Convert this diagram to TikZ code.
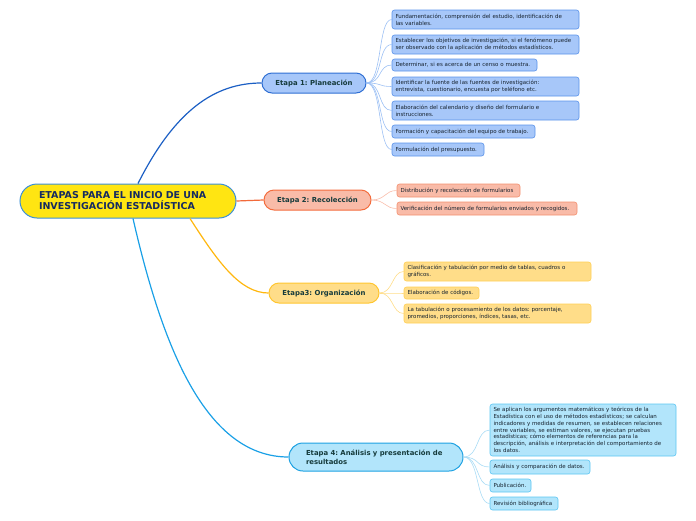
\documentclass[tikz,border=0pt]{standalone}
\usepackage{fontspec}
\setmainfont{DejaVu Sans}
\frenchspacing
\definecolor{txt}{HTML}{16222E}
\definecolor{stxt}{HTML}{163B3C}
\definecolor{ctxt}{HTML}{152A61}
\definecolor{cfill}{HTML}{FFE512}
\definecolor{cbord}{HTML}{3B8FD8}
\definecolor{bfill}{HTML}{A7C7F9}
\definecolor{bbord}{HTML}{2F6FD3}
\definecolor{blbord}{HTML}{5A93EA}
\definecolor{bline}{HTML}{1C5FC4}
\definecolor{blline}{HTML}{9CC0F4}
\definecolor{rfill}{HTML}{F9BBA8}
\definecolor{rbord}{HTML}{F36C3D}
\definecolor{rlbord}{HTML}{F3906F}
\definecolor{rline}{HTML}{F26A3B}
\definecolor{rlline}{HTML}{F9BCA9}
\definecolor{yfill}{HTML}{FFDD89}
\definecolor{ybord}{HTML}{FFC630}
\definecolor{ylbord}{HTML}{FFCF55}
\definecolor{yline}{HTML}{FFB70F}
\definecolor{ylline}{HTML}{FFDD89}
\definecolor{cyfill}{HTML}{B2E5FB}
\definecolor{cybord}{HTML}{1DA1E2}
\definecolor{cylbord}{HTML}{5CC6F2}
\definecolor{cyline}{HTML}{1AA0E6}
\definecolor{cylline}{HTML}{A9DCF5}
\tikzset{
  central/.style={draw=cbord, fill=cfill, line width=1pt, rounded corners=17pt,
    minimum width=216pt, minimum height=34pt, inner xsep=19pt, text width=178pt,
    align=left, text=ctxt, font=\fontsize{9.5}{11}\selectfont\bfseries},
  stage/.style={line width=1pt, rounded corners=10pt, minimum height=20pt,
    inner xsep=4pt, align=center, text=stxt, font=\fontsize{6.9}{9}\selectfont\bfseries},
  leaf/.style={line width=0.6pt, rounded corners=2.5pt, inner xsep=3.5pt, inner ysep=1pt,
    align=left, text=txt, font=\fontsize{5.5}{7}\selectfont},
  bleaf/.style={leaf, draw=blbord, fill=bfill},
  rleaf/.style={leaf, draw=rlbord, fill=rfill},
  yleaf/.style={leaf, draw=ylbord, fill=yfill},
  cleaf/.style={leaf, draw=cylbord, fill=cyfill},
  main/.style={line width=1.2pt},
  twig/.style={line width=0.6pt},
}
\newcommand{\lf}[6]{\node[#1, minimum width=#4pt, text width=#4pt-7pt, minimum height=#5pt] (#2) at (#3) {#6};}
\begin{document}
\begin{tikzpicture}[x=1pt,y=-1pt]
\useasboundingbox (0,0) rectangle (696,520);
% central
\node[central] (c) at (128,201) {ETAPAS PARA EL INICIO DE UNA\\INVESTIGACIÓN ESTADÍSTICA};
% stages
\node[stage, draw=bbord, fill=bfill, minimum width=104pt] (s1) at (314,83) {Etapa 1: Planeación};
\node[stage, draw=rbord, fill=rfill, minimum width=107pt] (s2) at (317.5,200) {Etapa 2: Recolección};
\node[stage, draw=ybord, fill=yfill, minimum width=110pt] (s3) at (324,293) {Etapa3: Organización};
\node[stage, draw=cybord, fill=cyfill, minimum width=174pt, minimum height=28pt, rounded corners=14pt,
  inner xsep=17pt, text width=140pt, align=left] (s4) at (376,457) {Etapa 4: Análisis y presentación de\\resultados};
% main connectors
\draw[main, bline] ([xshift=10pt]c.north) .. controls (175,110) and (215,83) .. (s1.west);
\draw[main, rline] (c.east) -- (s2.west);
\draw[main, yline] ([xshift=62pt]c.south) .. controls (218,262) and (240,293) .. (s3.west);
\draw[main, cyline] ([xshift=5pt]c.south) .. controls (162,345) and (205,457) .. (s4.west);
% stage 1 leaves
\lf{bleaf}{a1}{485.5,19.5}{187}{19}{Fundamentación, comprensión del estudio, identificación de\\las variables.}
\lf{bleaf}{a2}{485.5,44.5}{187}{19}{Establecer los objetivos de investigación, si el fenómeno puede\\ser observado con la aplicación de métodos estadísticos.}
\lf{bleaf}{a3}{464.5,65}{145}{12}{Determinar, si es acerca de un censo o muestra.}
\lf{bleaf}{a4}{485.5,86.5}{187}{19}{Identificar la fuente de las fuentes de investigación:\\entrevista, cuestionario, encuesta por teléfono etc.}
\lf{bleaf}{a5}{485.5,110.5}{187}{19}{Elaboración del calendario y diseño del formulario e\\instrucciones.}
\lf{bleaf}{a6}{463.5,131.5}{143}{13}{Formación y capacitación del equipo de trabajo.}
\lf{bleaf}{a7}{438,149.5}{92}{13}{Formulación del presupuesto.}
\foreach \n in {a1,a2,a3,a4,a5,a6,a7}
  \draw[twig, blline] (s1.east) .. controls +(16,0) and +(-14,0) .. (\n.west);
% stage 2 leaves
\lf{rleaf}{b1}{458.5,190.5}{123}{13}{Distribución y recolección de formularios}
\lf{rleaf}{b2}{487,208.5}{180}{13}{Verificación del número de formularios enviados y recogidos.}
\foreach \n in {b1,b2}
  \draw[twig, rlline] (s2.east) .. controls +(14,0) and +(-12,0) .. (\n.west);
% stage 3 leaves
\lf{yleaf}{d1}{497.5,271.5}{187}{19}{Clasificación y tabulación por medio de tablas, cuadros o\\gráficos.}
\lf{yleaf}{d2}{441.5,293}{75}{12}{Elaboración de códigos.}
\lf{yleaf}{d3}{497.5,313.5}{187}{19}{La tabulación o procesamiento de los datos: porcentaje,\\promedios, proporciones, índices, tasas, etc.}
\foreach \n in {d1,d2,d3}
  \draw[twig, ylline] (s3.east) .. controls +(14,0) and +(-12,0) .. (\n.west);
% stage 4 leaves
\lf{cleaf}{e1}{583,430}{186}{52}{\fontsize{5.5}{6.7}\selectfont Se aplican los argumentos matemáticos y teóricos de la\\Estadística con el uso de métodos estadísticos; se calculan\\indicadores y medidas de resumen, se establecen relaciones\\entre variables, se estiman valores, se ejecutan pruebas\\estadísticas; cómo elementos de referencias para la\\descripción, análisis e interpretación del comportamiento de\\los datos.}
\lf{cleaf}{e2}{540,467}{100}{14}{Análisis y comparación de datos.}
\lf{cleaf}{e3}{510.5,485.5}{41}{13}{Publicación.}
\lf{cleaf}{e4}{524,503.5}{68}{13}{Revisión bibliográfica}
\foreach \n in {e1,e2,e3,e4}
  \draw[twig, cylline] (s4.east) .. controls +(16,0) and +(-14,0) .. (\n.west);
\end{tikzpicture}
\end{document}
